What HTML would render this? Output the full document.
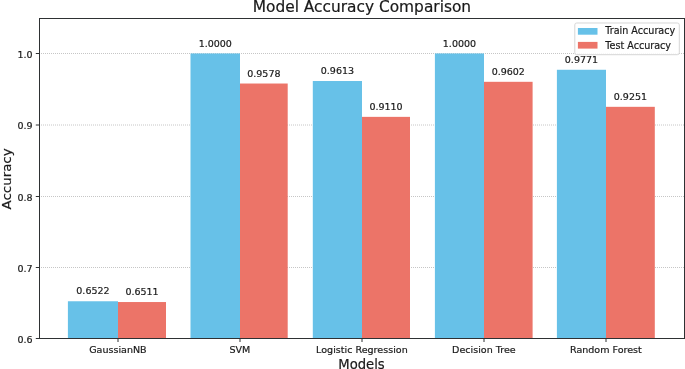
<!DOCTYPE html>
<html><head><meta charset="utf-8"><title>Model Accuracy Comparison</title>
<style>html,body{margin:0;padding:0;background:#fff;width:685px;height:369px;overflow:hidden}svg{display:block}</style>
</head><body>
<svg width="685" height="369" viewBox="0 0 685 369">
<rect x="0" y="0" width="685" height="369" fill="#fff"/>
<line x1="41" y1="267.5" x2="684" y2="267.5" stroke="#c6c6c6" stroke-width="1" stroke-dasharray="1 1"/>
<line x1="41" y1="196.5" x2="684" y2="196.5" stroke="#c6c6c6" stroke-width="1" stroke-dasharray="1 1"/>
<line x1="41" y1="125.0" x2="684" y2="125.0" stroke="#c6c6c6" stroke-width="1" stroke-dasharray="1 1"/>
<line x1="41" y1="53.5" x2="684" y2="53.5" stroke="#c6c6c6" stroke-width="1" stroke-dasharray="1 1"/>
<rect x="67.9" y="301.26" width="50.10" height="37.24" fill="#67c1e8"/>
<rect x="118" y="302.04" width="48.00" height="36.46" fill="#ec7468"/>
<rect x="190.5" y="53.45" width="49.50" height="285.05" fill="#67c1e8"/>
<rect x="240" y="83.52" width="47.70" height="254.98" fill="#ec7468"/>
<rect x="312.8" y="81.02" width="49.20" height="257.48" fill="#67c1e8"/>
<rect x="362" y="116.86" width="48.00" height="221.64" fill="#ec7468"/>
<rect x="434.9" y="53.45" width="49.10" height="285.05" fill="#67c1e8"/>
<rect x="484" y="81.81" width="48.60" height="256.69" fill="#ec7468"/>
<rect x="556.9" y="69.77" width="49.10" height="268.73" fill="#67c1e8"/>
<rect x="606" y="106.82" width="48.80" height="231.68" fill="#ec7468"/>
<rect x="39" y="18" width="1" height="321" fill="#2e3133"/>
<rect x="684" y="18" width="1" height="321" fill="#2e3133"/>
<rect x="39" y="18" width="646" height="1" fill="#2e3133"/>
<rect x="39" y="338" width="646" height="1" fill="#2e3133"/>
<line x1="35.8" y1="338.5" x2="39" y2="338.5" stroke="#2e3133" stroke-width="1"/>
<text transform="translate(32.50 342.80)" text-anchor="end" style="font-family:'DejaVu Sans','Liberation Sans',sans-serif;font-size:9.5px;stroke:#1a1a1a;stroke-width:0.2px" fill="#1a1a1a">0.6</text>
<line x1="35.8" y1="267.5" x2="39" y2="267.5" stroke="#2e3133" stroke-width="1"/>
<text transform="translate(32.50 271.80)" text-anchor="end" style="font-family:'DejaVu Sans','Liberation Sans',sans-serif;font-size:9.5px;stroke:#1a1a1a;stroke-width:0.2px" fill="#1a1a1a">0.7</text>
<line x1="35.8" y1="196.5" x2="39" y2="196.5" stroke="#2e3133" stroke-width="1"/>
<text transform="translate(32.50 200.80)" text-anchor="end" style="font-family:'DejaVu Sans','Liberation Sans',sans-serif;font-size:9.5px;stroke:#1a1a1a;stroke-width:0.2px" fill="#1a1a1a">0.8</text>
<line x1="35.8" y1="125.0" x2="39" y2="125.0" stroke="#2e3133" stroke-width="1"/>
<text transform="translate(32.50 129.30)" text-anchor="end" style="font-family:'DejaVu Sans','Liberation Sans',sans-serif;font-size:9.5px;stroke:#1a1a1a;stroke-width:0.2px" fill="#1a1a1a">0.9</text>
<line x1="35.8" y1="53.5" x2="39" y2="53.5" stroke="#2e3133" stroke-width="1"/>
<text transform="translate(32.50 57.80)" text-anchor="end" style="font-family:'DejaVu Sans','Liberation Sans',sans-serif;font-size:9.5px;stroke:#1a1a1a;stroke-width:0.2px" fill="#1a1a1a">1.0</text>
<line x1="118" y1="339" x2="118" y2="342" stroke="#2e3133" stroke-width="1"/>
<text transform="translate(117.90 352.90)" text-anchor="middle" style="font-family:'DejaVu Sans','Liberation Sans',sans-serif;font-size:9.55px;stroke:#1a1a1a;stroke-width:0.2px" fill="#1a1a1a">GaussianNB</text>
<line x1="240" y1="339" x2="240" y2="342" stroke="#2e3133" stroke-width="1"/>
<text transform="translate(239.90 352.90)" text-anchor="middle" style="font-family:'DejaVu Sans','Liberation Sans',sans-serif;font-size:9.55px;stroke:#1a1a1a;stroke-width:0.2px" fill="#1a1a1a">SVM</text>
<line x1="362" y1="339" x2="362" y2="342" stroke="#2e3133" stroke-width="1"/>
<text transform="translate(361.90 352.90)" text-anchor="middle" style="font-family:'DejaVu Sans','Liberation Sans',sans-serif;font-size:9.55px;stroke:#1a1a1a;stroke-width:0.2px" fill="#1a1a1a">Logistic Regression</text>
<line x1="484" y1="339" x2="484" y2="342" stroke="#2e3133" stroke-width="1"/>
<text transform="translate(483.90 352.90)" text-anchor="middle" style="font-family:'DejaVu Sans','Liberation Sans',sans-serif;font-size:9.55px;stroke:#1a1a1a;stroke-width:0.2px" fill="#1a1a1a">Decision Tree</text>
<line x1="606" y1="339" x2="606" y2="342" stroke="#2e3133" stroke-width="1"/>
<text transform="translate(605.90 352.90)" text-anchor="middle" style="font-family:'DejaVu Sans','Liberation Sans',sans-serif;font-size:9.55px;stroke:#1a1a1a;stroke-width:0.2px" fill="#1a1a1a">Random Forest</text>
<text transform="translate(92.95 294.46)" text-anchor="middle" style="font-family:'DejaVu Sans','Liberation Sans',sans-serif;font-size:9.5px;stroke:#1a1a1a;stroke-width:0.2px" fill="#1a1a1a">0.6522</text>
<text transform="translate(142.00 295.24)" text-anchor="middle" style="font-family:'DejaVu Sans','Liberation Sans',sans-serif;font-size:9.5px;stroke:#1a1a1a;stroke-width:0.2px" fill="#1a1a1a">0.6511</text>
<text transform="translate(215.25 46.65)" text-anchor="middle" style="font-family:'DejaVu Sans','Liberation Sans',sans-serif;font-size:9.5px;stroke:#1a1a1a;stroke-width:0.2px" fill="#1a1a1a">1.0000</text>
<text transform="translate(263.85 76.72)" text-anchor="middle" style="font-family:'DejaVu Sans','Liberation Sans',sans-serif;font-size:9.5px;stroke:#1a1a1a;stroke-width:0.2px" fill="#1a1a1a">0.9578</text>
<text transform="translate(337.40 74.22)" text-anchor="middle" style="font-family:'DejaVu Sans','Liberation Sans',sans-serif;font-size:9.5px;stroke:#1a1a1a;stroke-width:0.2px" fill="#1a1a1a">0.9613</text>
<text transform="translate(386.00 110.06)" text-anchor="middle" style="font-family:'DejaVu Sans','Liberation Sans',sans-serif;font-size:9.5px;stroke:#1a1a1a;stroke-width:0.2px" fill="#1a1a1a">0.9110</text>
<text transform="translate(459.45 46.65)" text-anchor="middle" style="font-family:'DejaVu Sans','Liberation Sans',sans-serif;font-size:9.5px;stroke:#1a1a1a;stroke-width:0.2px" fill="#1a1a1a">1.0000</text>
<text transform="translate(508.30 75.01)" text-anchor="middle" style="font-family:'DejaVu Sans','Liberation Sans',sans-serif;font-size:9.5px;stroke:#1a1a1a;stroke-width:0.2px" fill="#1a1a1a">0.9602</text>
<text transform="translate(581.45 62.97)" text-anchor="middle" style="font-family:'DejaVu Sans','Liberation Sans',sans-serif;font-size:9.5px;stroke:#1a1a1a;stroke-width:0.2px" fill="#1a1a1a">0.9771</text>
<text transform="translate(630.40 100.02)" text-anchor="middle" style="font-family:'DejaVu Sans','Liberation Sans',sans-serif;font-size:9.5px;stroke:#1a1a1a;stroke-width:0.2px" fill="#1a1a1a">0.9251</text>
<rect x="574.8" y="23.0" width="104.50" height="31.70" rx="1.9" ry="1.9" fill="#fff" fill-opacity="0.85" stroke="#d4d4d4" stroke-width="0.96"/>
<rect x="577.9" y="28.0" width="19.6" height="6.7" fill="#67c1e8"/>
<rect x="577.9" y="41.9" width="19.6" height="6.7" fill="#ec7468"/>
<text transform="translate(605.30 34.10)" style="font-family:'DejaVu Sans','Liberation Sans',sans-serif;font-size:9.6px;stroke:#1a1a1a;stroke-width:0.2px" fill="#1a1a1a">Train Accuracy</text>
<text transform="translate(605.30 48.60)" style="font-family:'DejaVu Sans','Liberation Sans',sans-serif;font-size:9.6px;stroke:#1a1a1a;stroke-width:0.2px" fill="#1a1a1a">Test Accuracy</text>
<text transform="translate(361.90 12.30)" text-anchor="middle" style="font-family:'DejaVu Sans','Liberation Sans',sans-serif;font-size:15.4px;stroke:#1a1a1a;stroke-width:0.2px" fill="#1a1a1a">Model Accuracy Comparison</text>
<text transform="translate(361.50 369.20)" text-anchor="middle" style="font-family:'DejaVu Sans','Liberation Sans',sans-serif;font-size:13.2px;stroke:#1a1a1a;stroke-width:0.2px" fill="#1a1a1a">Models</text>
<text transform="translate(10.90 178.90) rotate(-90) scale(1 0.95)" text-anchor="middle" style="font-family:'DejaVu Sans','Liberation Sans',sans-serif;font-size:13.4px;stroke:#1a1a1a;stroke-width:0.2px" fill="#1a1a1a">Accuracy</text>
</svg>
</body></html>
